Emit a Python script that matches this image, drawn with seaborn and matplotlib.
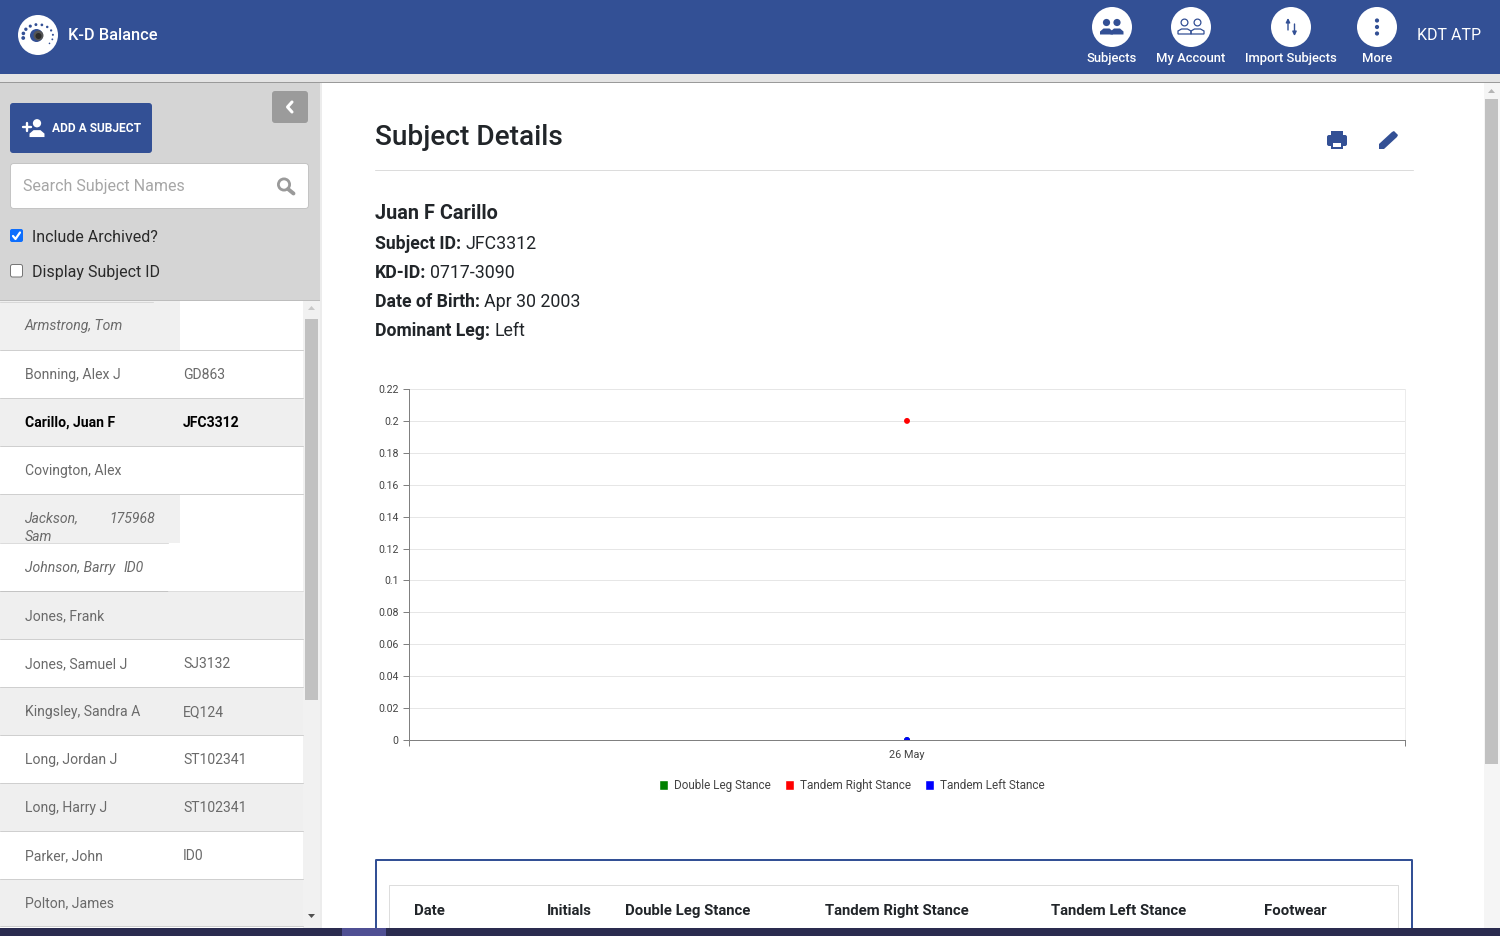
import numpy as np
import pandas as pd
import matplotlib
matplotlib.use('Agg')
import matplotlib.pyplot as plt
from matplotlib.patches import Patch, Rectangle, Circle, FancyBboxPatch, Polygon
import seaborn as sns

# chart data
dates = ['26 May']
stances = ['Double Leg Stance', 'Tandem Right Stance', 'Tandem Left Stance']
double_leg = [0]
tandem_right = [0.2]
tandem_left = [0]
y_ticks = [0, 0.02, 0.04, 0.06, 0.08, 0.1, 0.12, 0.14, 0.16, 0.18, 0.2, 0.22]
y_tick_labels = ['0', '0.02', '0.04', '0.06', '0.08', '0.1', '0.12', '0.14', '0.16', '0.18', '0.2', '0.22']
stance_colors = ['#008000', '#ff0000', '#0000ff']

# page text
subject_names = ['Armstrong, Tom', 'Bonning, Alex J', 'Carillo, Juan F', 'Covington, Alex',
                 'Jackson,\nSam', 'Johnson, Barry', 'Jones, Frank', 'Jones, Samuel J',
                 'Kingsley, Sandra A', 'Long, Jordan J', 'Long, Harry J', 'Parker, John', 'Polton, James']
subject_ids = ['', 'GD863', 'JFC3312', '', '175968', 'ID0', '', 'SJ3132', 'EQ124',
               'ST102341', 'ST102341', 'ID0', '']
nav_labels = ['Subjects', 'My Account', 'Import Subjects', 'More']
table_headers = ['Date', 'Initials', 'Double Leg Stance', 'Tandem Right Stance', 'Tandem Left Stance', 'Footwear']

BLUE = '#335095'
PX = 0.72  # one pixel as a line width in points

df = pd.DataFrame({
    'date': dates * 3,
    'stance': stances,
    'value': double_leg + tandem_right + tandem_left,
})

sns.set_theme(style='white')
plt.rcParams['font.family'] = ['Roboto', 'DejaVu Sans']

fig = plt.figure(figsize=(15, 9.36), dpi=100, facecolor='white')

# page furniture lives on one full-size axes in pixel coordinates
ui = fig.add_axes([0, 0, 1, 1], zorder=1)
ui.set_xlim(0, 1500)
ui.set_ylim(936, 0)
ui.axis('off')


def rect(x0, y0, x1, y1, color, z=1, **kw):
    ui.add_patch(Rectangle((x0, y0), x1 - x0, y1 - y0, facecolor=color, edgecolor='none', zorder=z, **kw))


def label(x, y, s, size=14, color='#212529', weight='normal', ha='left', style='normal', z=5):
    # y is the middle of the capitals, so all rows sit alike with or without descenders
    return ui.text(x, y + 0.355 * size, s, fontsize=size * PX, color=color, fontweight=weight, ha=ha,
                   va='baseline', fontstyle=style, zorder=z)


def rounded(x0, y0, x1, y1, color, edge='none', rad=3, z=2):
    ui.add_patch(FancyBboxPatch((x0 + rad, y0 + rad), x1 - x0 - 2 * rad, y1 - y0 - 2 * rad,
                                boxstyle='round,pad=%d' % rad, facecolor=color, edgecolor=edge,
                                linewidth=PX, zorder=z))


def person(cx, cy, scale, color, z=6):
    ui.add_patch(Circle((cx, cy - 5 * scale), 3.6 * scale, fc=color, ec='none', zorder=z))
    ui.add_patch(Polygon([[cx - 6.5 * scale, cy + 7 * scale], [cx - 6.5 * scale, cy + 4 * scale],
                          [cx - 3 * scale, cy + 1 * scale], [cx + 3 * scale, cy + 1 * scale],
                          [cx + 6.5 * scale, cy + 4 * scale], [cx + 6.5 * scale, cy + 7 * scale]],
                         fc=color, ec='none', zorder=z))


def person_outline(cx, cy, color, z=6):
    ui.add_patch(Circle((cx, cy - 5), 3.4, fc='none', ec=color, lw=0.9, zorder=z))
    ui.add_patch(Polygon([[cx - 6.5, cy + 6.5], [cx - 6.5, cy + 3.5], [cx - 3, cy + 1.5], [cx + 3, cy + 1.5],
                          [cx + 6.5, cy + 3.5], [cx + 6.5, cy + 6.5]], fc='none', ec=color, lw=0.9, zorder=z))


# header
rect(0, 0, 1500, 74, BLUE, z=3)
rect(0, 74, 1500, 82, '#e4e4e4', z=2)
rect(0, 82, 1500, 83, '#9a9a9a', z=2)
ui.add_patch(Circle((38, 35), 20, fc='white', ec='none', zorder=4))
ui.add_patch(Circle((36.5, 35.5), 6.5, fc=BLUE, ec='none', zorder=5))
ui.add_patch(Circle((38.5, 35.5), 5, fc='#555555', ec='none', zorder=6))
ui.add_patch(Circle((38.5, 36), 3, fc='#2b2b2b', ec='none', zorder=7))
arc_angles = np.arange(190, -60, -23)
for i, ang in enumerate(arc_angles):
    a = np.deg2rad(ang)
    size = 1.9 - 0.11 * i
    ui.add_patch(Circle((38 + 15 * np.cos(a), 36 - 11.5 * np.sin(a)), size, fc=BLUE, ec='none', zorder=5))
label(68, 34, 'K-D Balance', 16.4, 'white', 'medium')

nav_x = [1112, 1191, 1291, 1377]
for x, s in zip(nav_x, nav_labels):
    ui.add_patch(Circle((x, 27), 20, fc='white', ec='none', zorder=4))
    label(x, 57.5, s, 13, 'white', 'medium', ha='center')
person(1106.5, 27.5, 1, BLUE)
person(1117, 27.5, 1, BLUE)
person_outline(1184.5, 27.5, BLUE)
person_outline(1197.5, 27.5, BLUE)
ui.annotate('', xy=(1288, 18), xytext=(1288, 30), zorder=6,
            arrowprops=dict(arrowstyle='-|>', color=BLUE, lw=1.0, mutation_scale=6, shrinkA=0, shrinkB=0))
ui.annotate('', xy=(1294.5, 36), xytext=(1294.5, 24), zorder=6,
            arrowprops=dict(arrowstyle='-|>', color=BLUE, lw=1.0, mutation_scale=6, shrinkA=0, shrinkB=0))
for dy in (-6.5, 0, 6.5):
    ui.add_patch(Circle((1377, 27 + dy), 2.1, fc=BLUE, ec='none', zorder=6))
label(1417, 34, 'KDT ATP', 16, 'white', 'normal')

# sidebar controls
rect(0, 83, 320, 300, '#d5d5d5')
rect(320, 83, 322, 936, '#ececec')
rounded(272, 91, 308, 123, '#9b9b9b')
ui.plot([292, 287.5, 292], [102, 107, 112], color='white', lw=2.2, zorder=5)
rounded(10, 103, 152, 153, BLUE)
person(37, 129, 1.15, 'white')
ui.plot([23, 31], [127, 127], color='white', lw=1.7, zorder=6)
ui.plot([27, 27], [123, 131], color='white', lw=1.7, zorder=6)
label(52, 127.5, 'ADD A SUBJECT', 12, 'white', 'bold')
rounded(10.5, 163.5, 308.5, 208.5, 'white', edge='#c4c4c4')
label(23, 185.5, 'Search Subject Names', 16, '#a6a6a6')
ui.add_patch(Circle((284, 184.5), 5.6, fc='none', ec='#9a9a9a', lw=2.0, zorder=5))
ui.plot([288, 293.5], [189, 193.5], color='#9a9a9a', lw=2.8, zorder=5)
rounded(10, 229, 23, 242, '#0d6efd', rad=2)
ui.plot([13, 15.5, 20], [236, 239, 232.5], color='white', lw=1.6, zorder=5)
rounded(10.5, 264.5, 22.5, 277, 'white', edge='#777777', rad=2)
label(32, 236.5, 'Include Archived?', 16, '#2a2a2a')
label(32, 271.5, 'Display Subject ID', 16, '#2a2a2a')

# subject list
rect(0, 300, 320, 301, '#bdbdbd')
rect(303, 301, 320, 928, '#f1f1f1')
rect(305, 319, 318, 700, '#c1c1c1')
ui.add_patch(Polygon([[308, 310], [315, 310], [311.5, 306]], fc='#c8c8c8', ec='none', zorder=3))
ui.add_patch(Polygon([[308, 914], [315, 914], [311.5, 918]], fc='#505050', ec='none', zorder=3))

row_tops = [302, 351, 399, 447, 495, 544, 592, 640, 688, 736, 784, 832, 880, 927]
row_fill = ['#f0f0f0', None, '#efefef', None, '#f0f0f0', None, '#efefef', None,
            '#efefef', None, '#efefef', None, '#efefef']
for i, (name, sid) in enumerate(zip(subject_names, subject_ids)):
    y0, y1 = row_tops[i], row_tops[i + 1]
    mid = (y0 + y1) / 2 - 1
    italic = i in (0, 4, 5)
    if row_fill[i]:
        x1 = 180 if italic else 303
        rect(0, y0 - 1, x1, y1 - 1, row_fill[i], z=1.5)
    if i == 0:
        ui.plot([0, 153], [301.5, 301.5], color='#d8d8d8', lw=PX, zorder=2)
    if i == 4:
        ui.plot([0, 168], [y1 - 1.5, y1 - 1.5], color='#dcdcdc', lw=PX, zorder=2)
    elif i == 5:
        ui.plot([0, 168], [y1 - 1.5, y1 - 1.5], color='#c4c4c4', lw=PX, zorder=2)
        ui.plot([168, 303], [y1 - 1.5, y1 - 1.5], color='#dddddd', lw=PX, zorder=2)
    else:
        ui.plot([0, 303], [y1 - 1.5, y1 - 1.5], color='#cfcfcf', lw=PX, zorder=2)
    color = '#000000' if i == 2 else '#6a6a6a'
    weight = 'bold' if i == 2 else 'normal'
    style = 'italic' if italic else 'normal'
    if i == 4:
        first, second = name.split('\n')
        label(25, 517, first, 14, color, weight, style=style)
        label(25, 536, second, 14, color, weight, style=style)
    else:
        label(25, mid, name, 14, color, weight, style=style)
    id_x = {4: 109, 5: 123}.get(i, 183)
    label(id_x, mid, sid, 14, color, weight, style=style)

# main panel header
rect(1484, 83, 1500, 928, '#f5f5f5')
rect(1485, 99, 1498, 764, '#c1c1c1')
ui.add_patch(Polygon([[1488, 93], [1495, 93], [1491.5, 89]], fc='#b5b5b5', ec='none', zorder=3))
label(375, 135.5, 'Subject Details', 28, '#212529', 'medium')
ui.plot([375, 1413], [170, 170], color='#dcdcdc', lw=PX, zorder=2)

# print and edit icons
rect(1331, 131, 1343, 136, BLUE, z=5)
rounded(1327, 135, 1347, 146, BLUE, rad=2, z=5)
rect(1331, 142, 1343, 149, BLUE, z=5)
rect(1333, 143, 1341, 147, 'white', z=6)
ui.add_patch(Polygon([[1379, 149], [1379, 144], [1392, 132], [1394, 131], [1398, 135], [1397, 137], [1384, 149]],
                     fc=BLUE, ec='none', zorder=5))

label(375, 212, 'Juan F Carillo', 19.9, '#212529', 'bold')
detail_rows = [('Subject ID:', 'JFC3312', 242.5), ('KD-ID:', '0717-3090', 271.5),
               ('Date of Birth:', 'Apr 30 2003', 300.5), ('Dominant Leg:', 'Left', 329.5)]
r = fig.canvas.get_renderer()
for key, val, y in detail_rows:
    t = label(375, y, key, 17.6, '#212529', 'bold')
    w = t.get_window_extent(r).width
    label(375 + w + 4, y, val, 17.8, '#212529')

# table box at the bottom of the page
ui.plot([376, 376, 1412, 1412], [930, 860, 860, 930], color=BLUE, lw=2 * PX, zorder=2)
ui.plot([389, 389, 1398, 1398], [930, 885, 885, 930], color='#dddddd', lw=PX, zorder=2)
for x, s in zip([414, 547, 625, 825, 1051, 1264], table_headers):
    label(x, 910, s, 14.9, '#212529', 'bold')

# strip at the bottom of the window
rect(0, 928, 1500, 936, '#2a2b4f', z=8)
rect(342, 928, 386, 936, '#4f4f93', z=9)

# chart
ax = fig.add_axes([409 / 1500, 1 - 740 / 936, 996 / 1500, 351 / 936], zorder=2)
ax.patch.set_alpha(0)
sns.scatterplot(data=df, x='date', y='value', hue='stance', hue_order=stances,
                palette=stance_colors, s=18, linewidth=0, ax=ax, legend=False, zorder=5)
ax.set_xlim(-0.5, 0.5)
ax.set_ylim(0, 0.22)
ax.set_xlabel('')
ax.set_ylabel('')
ax.set_yticks(y_ticks, y_tick_labels)
ax.set_xticks([0], dates)
ax.set_xticks([-0.5, 0.5], minor=True)
ax.yaxis.grid(True, color='#e6e6e6', lw=PX)
ax.xaxis.grid(False)
ax.set_axisbelow(True)
ax.tick_params(axis='y', length=4, width=PX, color='#808080', labelsize=7.6, labelcolor='#444444', pad=3.5, left=True)
ax.tick_params(axis='x', which='major', length=0, labelsize=7.8, labelcolor='#444444', pad=7)
ax.tick_params(axis='x', which='minor', length=4, width=PX, color='#808080', bottom=True)
ax.spines['top'].set_visible(False)
ax.spines['right'].set_color('#ececec')
ax.spines['left'].set_color('#808080')
ax.spines['bottom'].set_color('#808080')
for side in ['left', 'right', 'bottom']:
    ax.spines[side].set_linewidth(PX)

handles = [Patch(facecolor=c, label=s) for c, s in zip(stance_colors, stances)]
ax.legend(handles=handles, loc='center', bbox_to_anchor=(0.4445, -0.1295), ncol=3, frameon=False,
          fontsize=8.5, labelcolor='#444444', handlelength=0.76, handleheight=1.0,
          handletextpad=0.5, columnspacing=1.2, borderpad=0)

fig.savefig('out.png', dpi=100)
